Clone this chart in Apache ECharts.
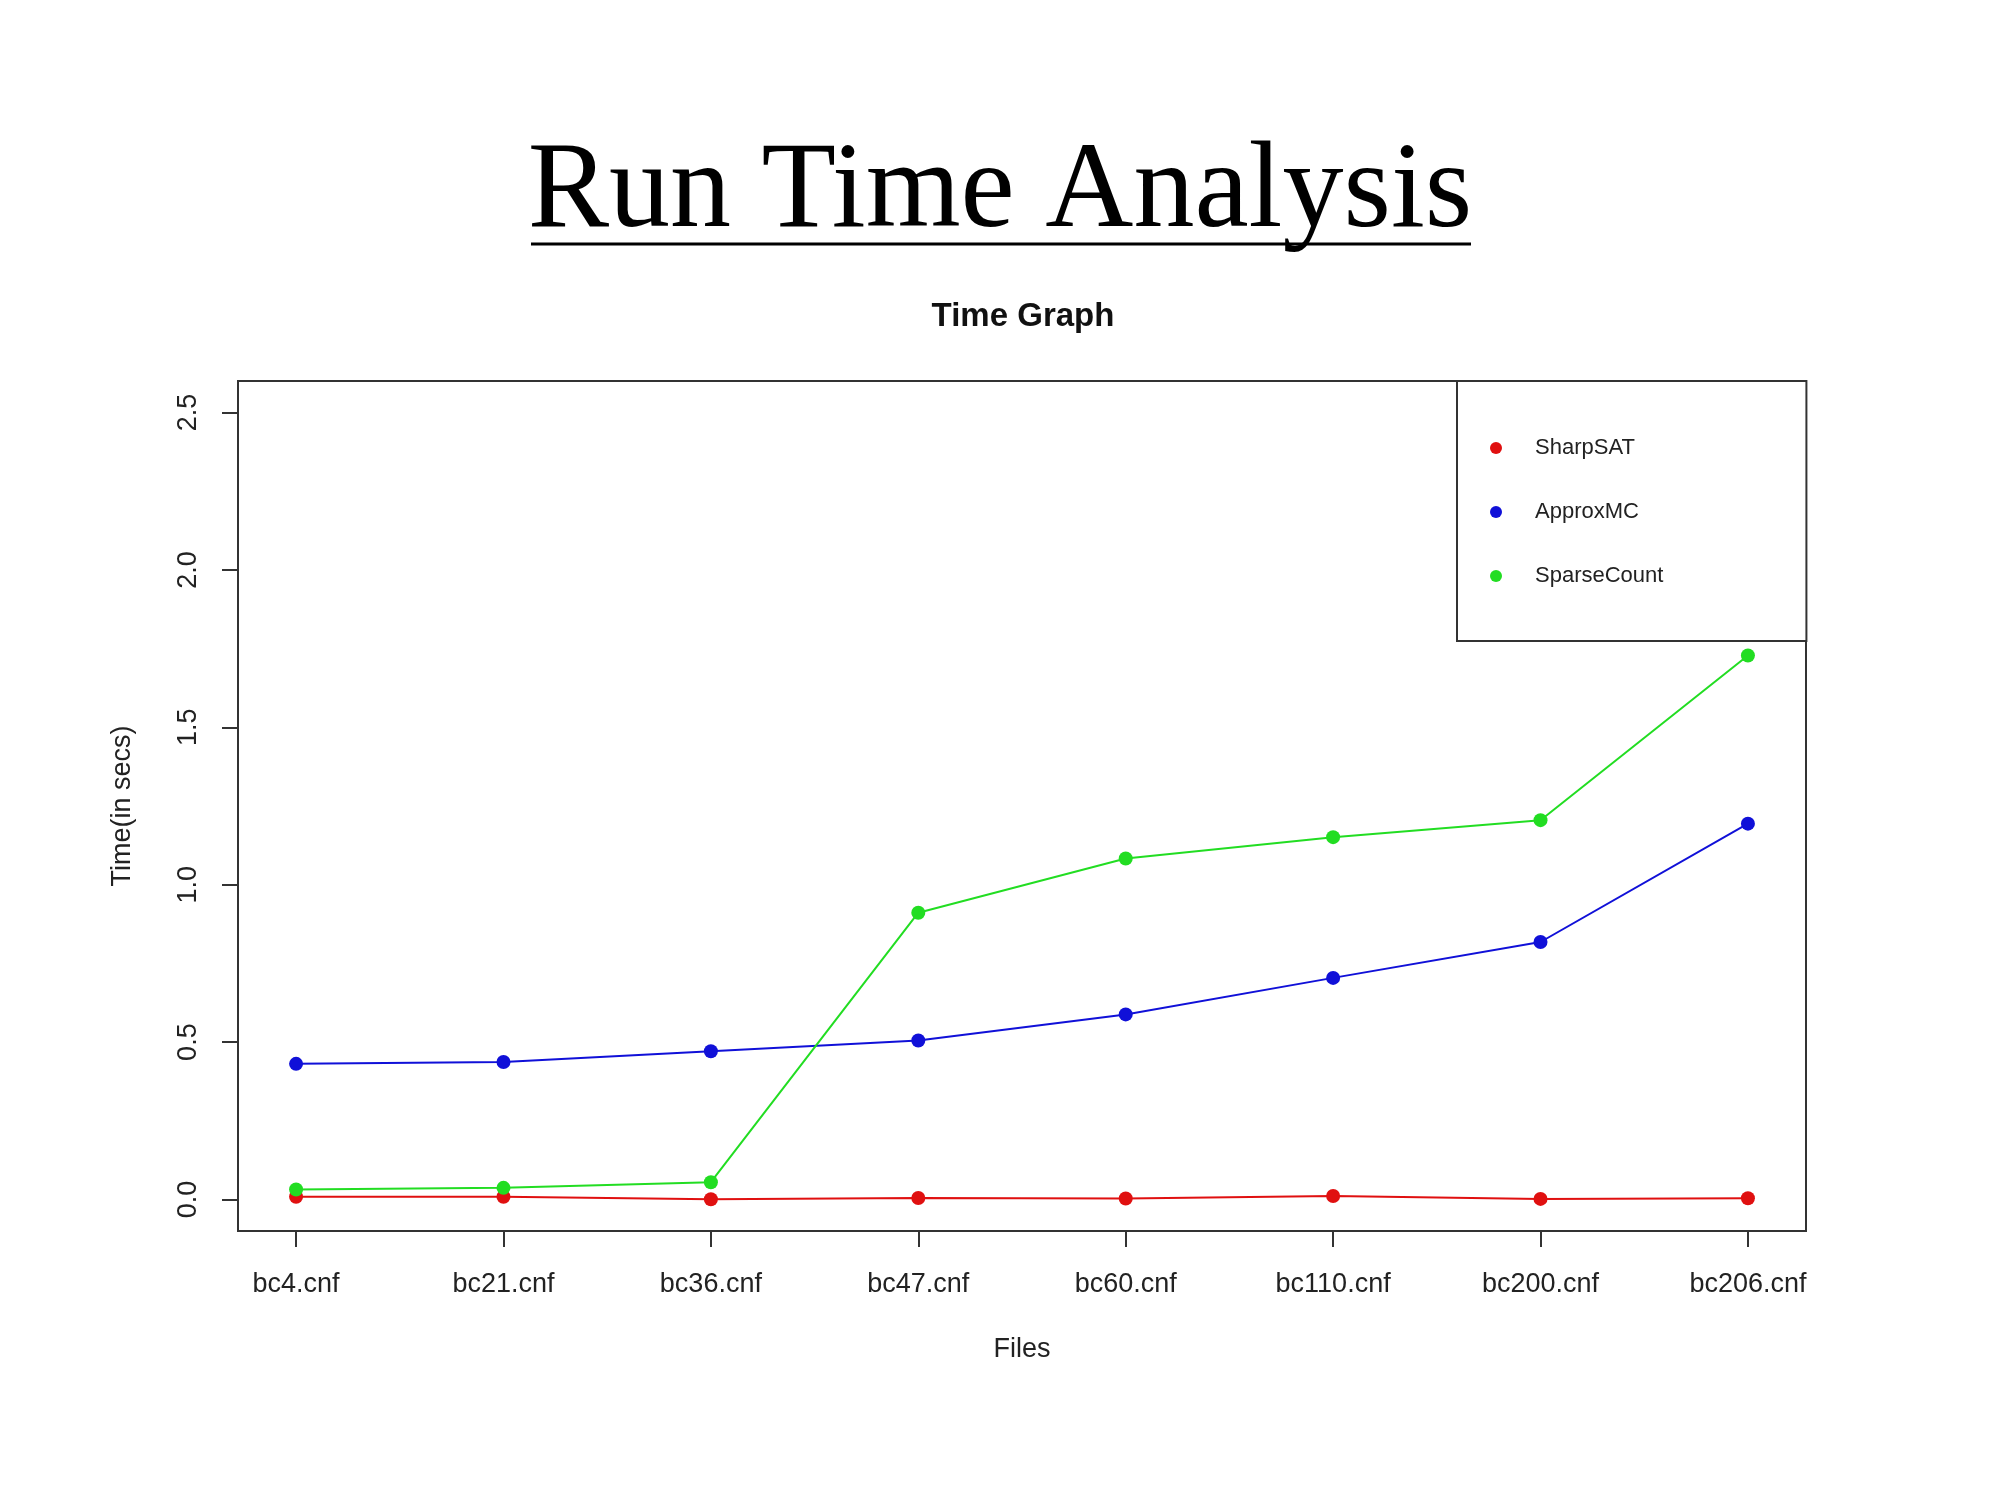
<!DOCTYPE html>
<html>
<head>
<meta charset="utf-8">
<script src="https://cdn.jsdelivr.net/npm/echarts@6/dist/echarts.min.js"></script>
<style>
html,body{margin:0;padding:0;background:#fff;}
#chart{width:2000px;height:1500px;}
</style>
</head>
<body>
<div id="chart"></div>
<script>
const files = ['bc4.cnf','bc21.cnf','bc36.cnf','bc47.cnf','bc60.cnf','bc110.cnf','bc200.cnf','bc206.cnf'];
const sharpSAT = [0.009, 0.009, 0.001, 0.005, 0.003, 0.011, 0.002, 0.004];
const approxMC = [0.431, 0.437, 0.471, 0.505, 0.588, 0.704, 0.818, 1.194];
const sparseCount = [0.032, 0.037, 0.055, 0.911, 1.083, 1.151, 1.205, 1.728];
const yTicks = [0, 0.5, 1.0, 1.5, 2.0, 2.5];
const xPositions = files.map((f, i) => i + 1);

const chart = echarts.init(document.getElementById('chart'), null, {renderer: 'canvas'});
const toPairs = arr => arr.map((v, i) => [i + 1, v]);
const sans = 'Liberation Sans';

function lineSeries(name, data, color) {
  return {
    name: name,
    type: 'line',
    data: toPairs(data),
    symbol: 'circle',
    symbolSize: 14,
    showSymbol: true,
    itemStyle: {color: color},
    lineStyle: {color: color, width: 2},
    emphasis: {disabled: true},
    animation: false
  };
}

chart.setOption({
  backgroundColor: '#ffffff',
  animation: false,
  title: [
    {
      text: 'Run Time Analysis',
      left: 'center',
      top: 128,
      textStyle: {fontFamily: 'Liberation Serif', fontSize: 122, fontWeight: 'normal', color: '#000'}
    },
    {
      text: 'Time Graph',
      left: 1018,
      textAlign: 'center',
      top: 295,
      textStyle: {fontFamily: sans, fontSize: 33, fontWeight: 'bold', color: '#111'}
    }
  ],
  graphic: [
    {
      type: 'line',
      shape: {x1: 531, y1: 244, x2: 1471, y2: 244},
      style: {stroke: '#000', lineWidth: 3}
    }
  ],
  legend: {
    orient: 'vertical',
    left: 1457,
    top: 381,
    padding: [56, 143, 54, 33],
    itemGap: 42,
    itemWidth: 12,
    itemHeight: 12,
    icon: 'circle',
    borderColor: '#333',
    borderWidth: 2,
    borderRadius: 0,
    backgroundColor: '#fff',
    data: ['SharpSAT', 'ApproxMC', 'SparseCount'],
    formatter: name => '{t|' + name + '}',
    textStyle: {
      fontFamily: sans, fontSize: 22, color: '#222',
      rich: {t: {fontFamily: sans, fontSize: 22, color: '#222', padding: [0, 0, 0, 28]}}
    }
  },
  grid: {
    left: 238,
    top: 381,
    right: 194,
    bottom: 269,
    show: true,
    borderColor: '#333',
    borderWidth: 2,
    backgroundColor: 'transparent',
    containLabel: false
  },
  xAxis: {
    type: 'value',
    min: 0.72,
    max: 8.28,
    name: 'Files',
    nameLocation: 'middle',
    nameGap: 105,
    nameTextStyle: {fontFamily: sans, fontSize: 27, color: '#222'},
    axisLine: {show: false, onZero: false},
    splitLine: {show: false},
    axisTick: {show: true, length: 16, customValues: xPositions, lineStyle: {color: '#333', width: 2}},
    axisLabel: {
      customValues: xPositions,
      margin: 40,
      fontFamily: sans,
      fontSize: 27,
      color: '#222',
      formatter: v => files[Math.round(v) - 1] || ''
    }
  },
  yAxis: {
    type: 'value',
    min: -0.1,
    max: 2.6,
    name: 'Time(in secs)',
    nameLocation: 'middle',
    nameGap: 102,
    nameRotate: 90,
    nameTextStyle: {fontFamily: sans, fontSize: 27, color: '#222'},
    axisLine: {show: false, onZero: false},
    splitLine: {show: false},
    axisTick: {show: true, length: 16, customValues: yTicks, lineStyle: {color: '#333', width: 2}},
    axisLabel: {
      customValues: yTicks,
      rotate: 90,
      margin: 36,
      fontFamily: sans,
      fontSize: 27,
      color: '#222',
      formatter: v => Number(v).toFixed(1)
    }
  },
  series: [
    lineSeries('SharpSAT', sharpSAT, '#e01010'),
    lineSeries('ApproxMC', approxMC, '#1010d8'),
    lineSeries('SparseCount', sparseCount, '#22dd22')
  ]
});
</script>
</body>
</html>
